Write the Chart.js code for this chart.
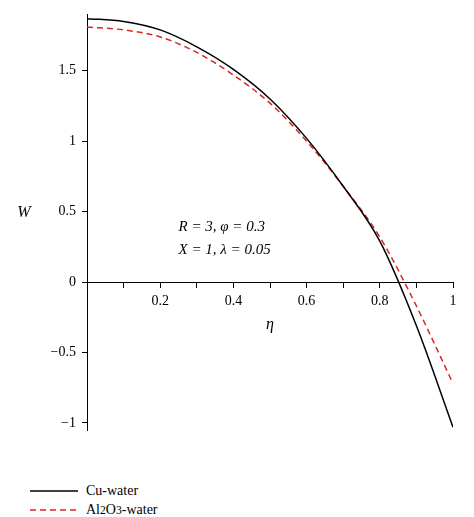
<!DOCTYPE html>
<html>
<head>
<meta charset="utf-8">
<script src="https://cdn.jsdelivr.net/npm/chart.js@4"></script>
<style>
  body { margin: 0; background: #fff; font-family: "Liberation Serif", serif; }
  #wrap { position: relative; width: 474px; height: 460px; }
  .legend { position: absolute; left: 30px; font-size: 14px; display: flex; align-items: center; }
  .legend svg { margin-right: 8px; }
</style>
</head>
<body>
<div id="wrap"><canvas id="c" width="474" height="460"></canvas></div>
<div class="legend" style="top:483px"><svg width="48" height="4"><line x1="0" y1="2" x2="48" y2="2" stroke="#000" stroke-width="1.5"/></svg>Cu-water</div>
<div class="legend" style="top:502px"><svg width="48" height="4"><line x1="0" y1="2" x2="48" y2="2" stroke="#d62728" stroke-width="1.5" stroke-dasharray="6,4"/></svg>Al<sub>2</sub>O<sub>3</sub>-water</div>
<script>
// eta grid and W profiles
const eta = [0, 0.1, 0.2, 0.3, 0.4, 0.5, 0.6, 0.7, 0.8, 0.9, 1.0];
const cuWater = [1.87, 1.85, 1.79, 1.67, 1.51, 1.30, 1.02, 0.68, 0.29, -0.31, -1.03];
const alWater = [1.81, 1.79, 1.74, 1.63, 1.47, 1.27, 1.00, 0.68, 0.32, -0.17, -0.72];
const yTicks = [1.5, 1, 0.5, 0, -0.5, -1];
const xTicks = [0.1, 0.2, 0.3, 0.4, 0.5, 0.6, 0.7, 0.8, 0.9, 1];

const pts = arr => eta.map((x, i) => ({ x, y: arr[i] }));
const fnt = { family: "'Liberation Serif', serif", size: 14 };
const lab = v => String(v).replace('-', '\u2212');

const textPlugin = {
  id: 'txt',
  afterDraw(ch) {
    const c = ch.ctx, xs = ch.scales.x, ys = ch.scales.y;
    c.save();
    c.fillStyle = '#000';
    c.font = "italic 16px 'Liberation Serif', serif";
    c.textAlign = 'center';
    c.fillText('W', 24, ys.getPixelForValue(0.5) + 5);
    c.fillText('\u03b7', xs.getPixelForValue(0.5), ys.getPixelForValue(0) + 47);
    c.textAlign = 'left';
    c.font = "italic 15px 'Liberation Serif', serif";
    const x0 = xs.getPixelForValue(0.25);
    c.fillText('R = 3, \u03c6 = 0.3', x0, ys.getPixelForValue(0.36));
    c.fillText('X = 1, \u03bb = 0.05', x0, ys.getPixelForValue(0.2));
    c.restore();
  }
};

new Chart(document.getElementById('c'), {
  type: 'line',
  data: {
    datasets: [
      { label: 'Cu-water', data: pts(cuWater), borderColor: '#000', borderWidth: 1.5, pointRadius: 0, cubicInterpolationMode: 'monotone' },
      { label: 'Al2O3-water', data: pts(alWater), borderColor: '#d62728', borderWidth: 1.5, borderDash: [6, 4], pointRadius: 0, cubicInterpolationMode: 'monotone' }
    ]
  },
  options: {
    responsive: false,
    animation: false,
    layout: { padding: { top: 11, bottom: 30, right: 21, left: 0 } },
    plugins: { legend: { display: false }, tooltip: { enabled: false } },
    scales: {
      x: {
        type: 'linear', min: 0, max: 1, position: { y: 0 },
        afterBuildTicks: s => { s.ticks = xTicks.map(v => ({ value: v })); },
        ticks: { color: '#000', font: fnt, callback: v => (Math.round(v * 10) % 2 === 0 ? lab(v) : ''), maxRotation: 0, autoSkip: false, padding: 6 },
        grid: { drawOnChartArea: false, tickLength: 5, color: '#000' },
        border: { color: '#000' }
      },
      y: {
        min: -1.05, max: 1.9,
        afterFit: s => { s.width = 87; },
        afterBuildTicks: s => { s.ticks = yTicks.map(v => ({ value: v })); },
        ticks: { color: '#000', font: fnt, callback: v => lab(v), padding: 6 },
        grid: { drawOnChartArea: false, tickLength: 5, color: '#000' },
        border: { color: '#000' }
      }
    }
  },
  plugins: [textPlugin]
});
</script>
</body>
</html>
